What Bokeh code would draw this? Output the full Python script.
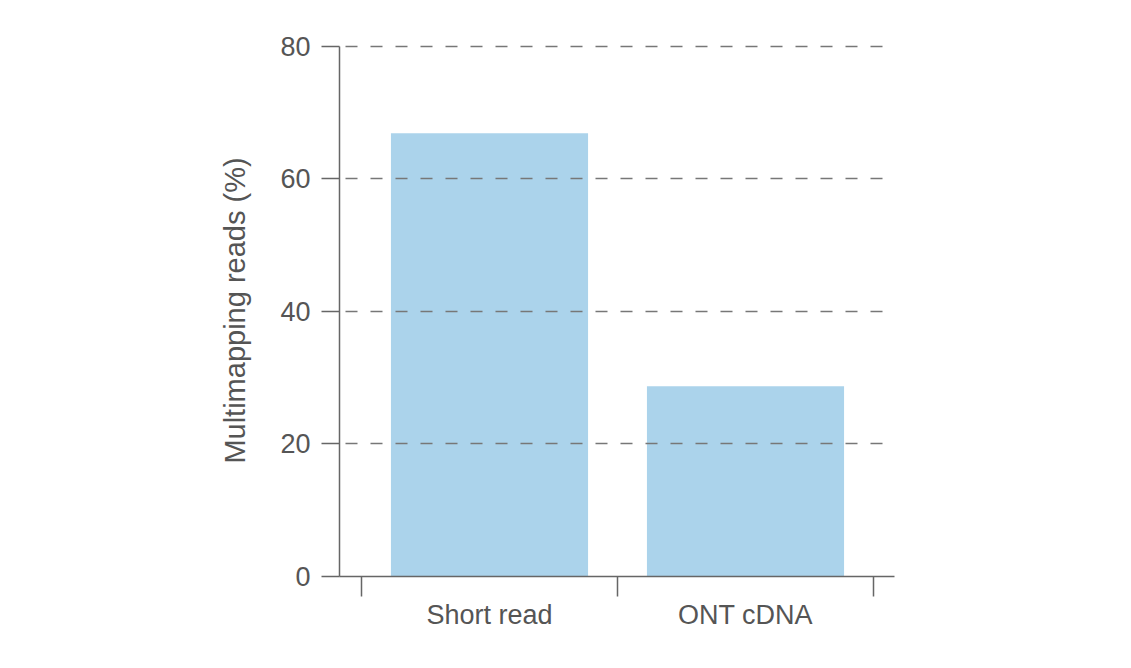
from bokeh.plotting import figure
from bokeh.models import Range1d, FixedTicker, LinearAxis, ColumnDataSource
from bokeh.embed import file_html
from bokeh.resources import INLINE

categories = ["Short read", "ONT cDNA"]
values = [66.9, 28.7]
y_ticks = [0, 20, 40, 60, 80]
y_label = "Multimapping reads (%)"

positions = [i + 0.5 for i in range(len(categories))]
boundaries = [float(i) for i in range(len(categories) + 1)]

FONT = "Liberation Sans"
TEXT = "#555555"
AXIS = "#666666"

src = ColumnDataSource(dict(x=positions, top=values, cat=categories))

p = figure(width=1131, height=660, output_backend="svg", toolbar_location=None,
           x_range=Range1d(-22 / 256, 533 / 256), y_range=Range1d(0, 80.3),
           min_border_left=339, min_border_right=237, min_border_top=44, min_border_bottom=84,
           x_axis_location=None, y_axis_location=None)
p.outline_line_color = None
p.xgrid.visible = False

p.vbar(x="x", top="top", width=0.77, bottom=0, source=src,
       fill_color="#abd3eb", line_color=None)

yax = LinearAxis(ticker=FixedTicker(ticks=y_ticks), axis_label=y_label, bounds=(0, 80))
yax.axis_line_color = AXIS
yax.axis_line_width = 1.5
yax.major_tick_line_color = AXIS
yax.major_tick_line_width = 1.5
yax.major_tick_in = 0
yax.major_tick_out = 18
yax.minor_tick_line_color = None
yax.major_label_standoff = 11
yax.major_label_text_font = FONT
yax.major_label_text_font_size = "27px"
yax.major_label_text_color = TEXT
yax.axis_label_text_font = FONT
yax.axis_label_text_font_size = "29px"
yax.axis_label_text_font_style = "normal"
yax.axis_label_text_color = TEXT
yax.axis_label_standoff = 26
p.add_layout(yax, "left")

xax = LinearAxis(ticker=FixedTicker(ticks=positions, minor_ticks=boundaries))
xax.major_label_overrides = {pos: c for pos, c in zip(positions, categories)}
xax.axis_line_color = AXIS
xax.axis_line_width = 1.5
xax.major_tick_line_color = None
xax.major_tick_in = 0
xax.major_tick_out = 0
xax.minor_tick_line_color = AXIS
xax.minor_tick_line_width = 1.5
xax.minor_tick_in = 0
xax.minor_tick_out = 20
xax.major_label_standoff = 3
xax.major_label_text_font = FONT
xax.major_label_text_font_size = "27px"
xax.major_label_text_color = TEXT
p.add_layout(xax, "below")

p.ygrid.ticker = FixedTicker(ticks=y_ticks)
p.ygrid.grid_line_color = "#777777"
p.ygrid.grid_line_width = 1.3
p.ygrid.grid_line_dash = "12 13"
p.ygrid.grid_line_dash_offset = 19
p.ygrid.level = "overlay"

open("out.html", "w").write(file_html(p, INLINE))
